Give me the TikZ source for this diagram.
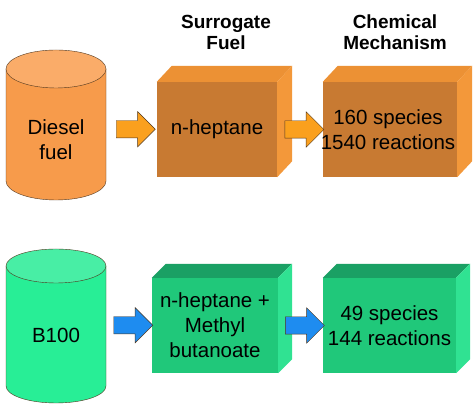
\documentclass[tikz,border=0pt]{standalone}
\usepackage{fontspec}
\setmainfont{Liberation Sans}
\usetikzlibrary{shapes.arrows,calc}
\definecolor{cylorange}{RGB}{247,155,75}
\definecolor{cylorangetop}{RGB}{250,172,105}
\definecolor{boxorange}{RGB}{200,122,50}
\definecolor{boxorangetop}{RGB}{236,145,52}
\definecolor{boxorangeside}{RGB}{243,152,58}
\definecolor{cylgreen}{RGB}{40,238,150}
\definecolor{cylgreentop}{RGB}{72,238,165}
\definecolor{boxgreen}{RGB}{32,200,122}
\definecolor{boxgreentop}{RGB}{26,160,100}
\definecolor{boxgreenside}{RGB}{48,226,146}
\definecolor{arroworange}{RGB}{250,160,30}
\definecolor{arrowblue}{RGB}{30,140,240}
\definecolor{edge}{RGB}{80,55,30}
\tikzset{
    label/.style={font=\fontsize{20.5}{25}\selectfont, align=center, inner sep=0pt},
    header/.style={font=\bfseries\fontsize{19}{21}\selectfont, align=center},
    flow/.style={single arrow, draw=edge, fill=#1, thin, inner xsep=0pt, inner ysep=8.5pt,
        minimum height=39pt, single arrow head extend=9pt},
    front/.style={rectangle, fill=#1, inner sep=0pt}
}
\newcommand{\cube}[5]{%
    \fill [#3] (#1.north west) -- ++(#4,#5) -- ($(#1.north east)+(#4,#5)$) -- (#1.north east) -- cycle;
    \fill [#2] (#1.north east) -- ++(#4,#5) -- ($(#1.south east)+(#4,#5)$) -- (#1.south east) -- cycle;
}
\begin{document}
\begin{tikzpicture}[x=1pt, y=1pt]
    \useasboundingbox (0,0) rectangle (474,406);
    \fill [white] (0,0) rectangle (474,406);

    \node [header] (surrhead) at (226,373.5) {Surrogate\\Fuel};
    \node [header] (mechhead) at (395,373.5) {Chemical\\Mechanism};

    \filldraw [draw=edge, thin, fill=cylorange] (6,337) -- (6,225)
        arc[start angle=180, end angle=360, x radius=50, y radius=19] -- (106,337) -- cycle;
    \filldraw [draw=edge, thin, fill=cylorangetop] (56,337) ellipse[x radius=50, y radius=19];
    \coordinate (tankA) at (106,277);
    \node [label] (diesel) at (56,266) {Diesel\\fuel};

    \filldraw [draw=edge, thin, fill=cylgreen] (6,140) -- (6,20)
        arc[start angle=180, end angle=360, x radius=50, y radius=17] -- (106,140) -- cycle;
    \filldraw [draw=edge, thin, fill=cylgreentop] (56,140) ellipse[x radius=50, y radius=17];
    \coordinate (tankB) at (106,81);
    \node [label] (b100) at (56,71) {B100};

    \node [front=boxorange, minimum width=120pt, minimum height=95pt] (heptane) at (217,276.5) {};
    \cube{heptane}{boxorangeside}{boxorangetop}{15}{16}
    \node [label] at (heptane) {n-heptane};
    \node [front=boxorange, minimum width=134pt, minimum height=95pt] (mechA) at (390,276.5) {};
    \cube{mechA}{boxorangeside}{boxorangetop}{15}{16}
    \node [label] at ($(mechA)+(-2,0)$) {160 species\\1540 reactions};

    \node [front=boxgreen, minimum width=126pt, minimum height=95pt] (blend) at (215,80.5) {};
    \cube{blend}{boxgreenside}{boxgreentop}{14}{14}
    \node [label] at (blend) {n-heptane +\\Methyl\\butanoate};
    \node [front=boxgreen, minimum width=133pt, minimum height=95pt] (mechB) at (389.5,80.5) {};
    \cube{mechB}{boxgreenside}{boxgreentop}{14}{14}
    \node [label] at (mechB) {49 species\\144 reactions};

    \node [flow=arroworange] (a1) at ($(tankA)!0.5!(heptane.west)$) {};
    \node [flow=arroworange] (a2) at ($(heptane.east)!0.5!(mechA.west)$) {};
    \node [flow=arrowblue] (b1) at ($(tankB)!0.5!(blend.west)$) {};
    \node [flow=arrowblue] (b2) at ($(blend.east)!0.5!(mechB.west)$) {};
\end{tikzpicture}
\end{document}
